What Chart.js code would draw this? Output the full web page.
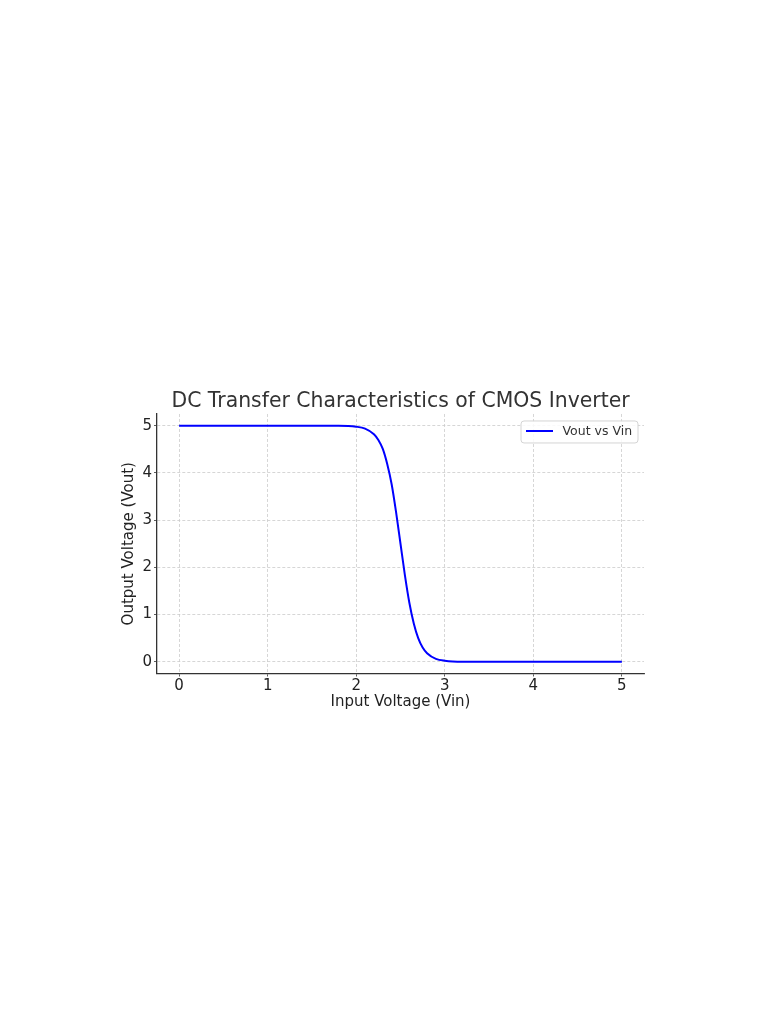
<!DOCTYPE html>
<html>
<head>
<meta charset="utf-8">
<script src="https://cdn.jsdelivr.net/npm/chart.js@4.4.1/dist/chart.umd.min.js"></script>
<style>
  html, body { margin: 0; padding: 0; background: #fff; }
  #wrap { position: relative; width: 768px; height: 1024px; }
</style>
</head>
<body>
<div id="wrap"><canvas id="chart" width="768" height="1024"></canvas></div>
<script>
// Values
const vin = [0, 0.5, 1, 1.5, 1.8, 2.0, 2.1, 2.2, 2.25, 2.3, 2.35, 2.4, 2.45, 2.5, 2.55, 2.6, 2.65, 2.7, 2.75, 2.8, 2.9, 3.0, 3.2, 3.5, 4, 4.5, 5];
const vout = [5, 5, 5, 5, 5.0, 4.98, 4.94, 4.82, 4.70, 4.51, 4.19, 3.76, 3.17, 2.5, 1.83, 1.25, 0.81, 0.50, 0.30, 0.18, 0.06, 0.02, 0.0, 0, 0, 0, 0];
const tickValues = [0, 1, 2, 3, 4, 5];
const seriesLabel = 'Vout vs Vin';

const font = 'DejaVu Sans';

// legend box drawn inside the plot, matplotlib style
const boxLegend = {
  id: 'boxLegend',
  afterDatasetsDraw(chart) {
    const { ctx, chartArea } = chart;
    const ds = chart.data.datasets[0];
    const x = chartArea.right - 123, y = chartArea.top + 7;
    const w = 117, h = 22;
    ctx.save();
    ctx.beginPath();
    ctx.roundRect(x, y, w, h, 3);
    ctx.fillStyle = 'rgba(255,255,255,0.85)';
    ctx.fill();
    ctx.strokeStyle = '#d4d4d4';
    ctx.lineWidth = 1;
    ctx.stroke();
    ctx.beginPath();
    ctx.moveTo(x + 5, y + 10);
    ctx.lineTo(x + 32, y + 10);
    ctx.strokeStyle = ds.borderColor;
    ctx.lineWidth = 2;
    ctx.stroke();
    ctx.fillStyle = '#333';
    ctx.font = '12.5px "' + font + '"';
    ctx.textBaseline = 'middle';
    ctx.fillText(ds.label, x + 41.5, y + 10.5);
    ctx.restore();
  }
};

const axisCommon = {
  type: 'linear',
  min: -0.25,
  max: 5.25,
  afterBuildTicks: (scale) => {
    scale.ticks = tickValues.map(v => ({ value: v }));
  },
  ticks: {
    color: '#222',
    font: { family: font, size: 15 },
    includeBounds: false
  },
  grid: {
    color: '#cccccc',
    lineWidth: 0.8,
    tickColor: '#333',
    tickLength: 3,
    tickBorderDash: []
  },
  border: {
    color: '#333',
    width: 1.3,
    dash: [3, 2]
  }
};

new Chart(document.getElementById('chart').getContext('2d'), {
  type: 'line',
  data: {
    datasets: [{
      label: seriesLabel,
      data: vin.map((v, i) => ({ x: v, y: vout[i] })),
      borderColor: '#0000ff',
      borderWidth: 2,
      pointRadius: 0,
      cubicInterpolationMode: 'monotone',
      fill: false
    }]
  },
  options: {
    responsive: false,
    animation: false,
    layout: { padding: { top: 389.5, left: 120, right: 124, bottom: 312.5 } },
    plugins: {
      legend: { display: false },
      tooltip: { enabled: false },
      title: {
        display: true,
        fullSize: false,
        text: 'DC Transfer Characteristics of CMOS Inverter',
        color: '#333',
        font: { family: font, size: 20.4, weight: 'normal' },
        padding: { top: 0, bottom: 0 }
      }
    },
    scales: {
      x: {
        ...axisCommon,
        ticks: { ...axisCommon.ticks, padding: 1 },
        afterFit: (scale) => { scale.height = 38; },
        title: {
          display: true,
          text: 'Input Voltage (Vin)',
          color: '#222',
          font: { family: font, size: 15 },
          padding: 0
        }
      },
      y: {
        ...axisCommon,
        ticks: { ...axisCommon.ticks, padding: 2 },
        afterFit: (scale) => { scale.width = 37; },
        title: {
          display: true,
          text: 'Output Voltage (Vout)',
          color: '#222',
          font: { family: font, size: 15 },
          padding: 0
        }
      }
    }
  },
  plugins: [boxLegend]
});
</script>
</body>
</html>
